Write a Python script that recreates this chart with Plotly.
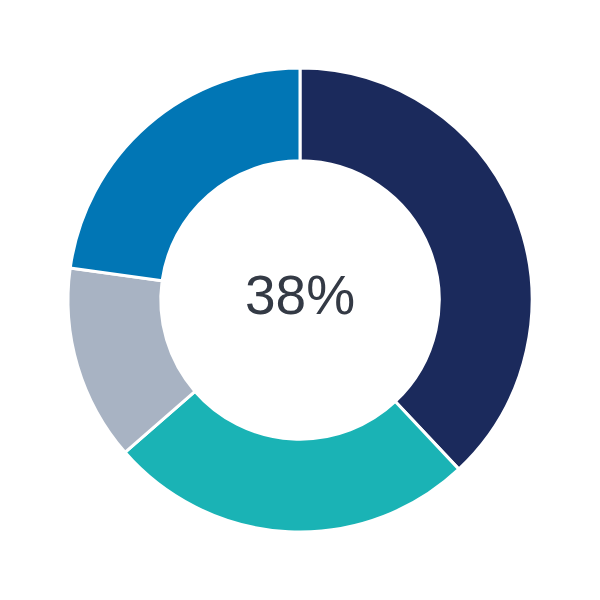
import plotly.graph_objects as go

# slice shares, clockwise from 12 o'clock
labels = ["A", "B", "C", "D"]
values = [38, 25.6, 13.6, 22.8]
colors = ["#1b2a5c", "#1ab3b5", "#a8b3c3", "#0176b5"]
center_text = "38%"

fig = go.Figure(go.Pie(
    labels=labels,
    values=values,
    hole=0.6,
    sort=False,
    direction="clockwise",
    rotation=0,
    marker=dict(colors=colors, line=dict(color="white", width=3)),
    textinfo="none",
    hoverinfo="label+percent",
    showlegend=False,
))

fig.add_annotation(
    text=center_text, x=0.5, y=0.51, xref="paper", yref="paper",
    showarrow=False,
    font=dict(family="Liberation Sans, Arial", size=55, color="#343a45"),
)

# page body adds 8px, so margins are offset to keep the ring centred
fig.update_layout(
    width=600, height=600,
    margin=dict(l=60, r=76, t=60, b=76),
    paper_bgcolor="white",
    plot_bgcolor="white",
)

fig.write_html("out.html")
